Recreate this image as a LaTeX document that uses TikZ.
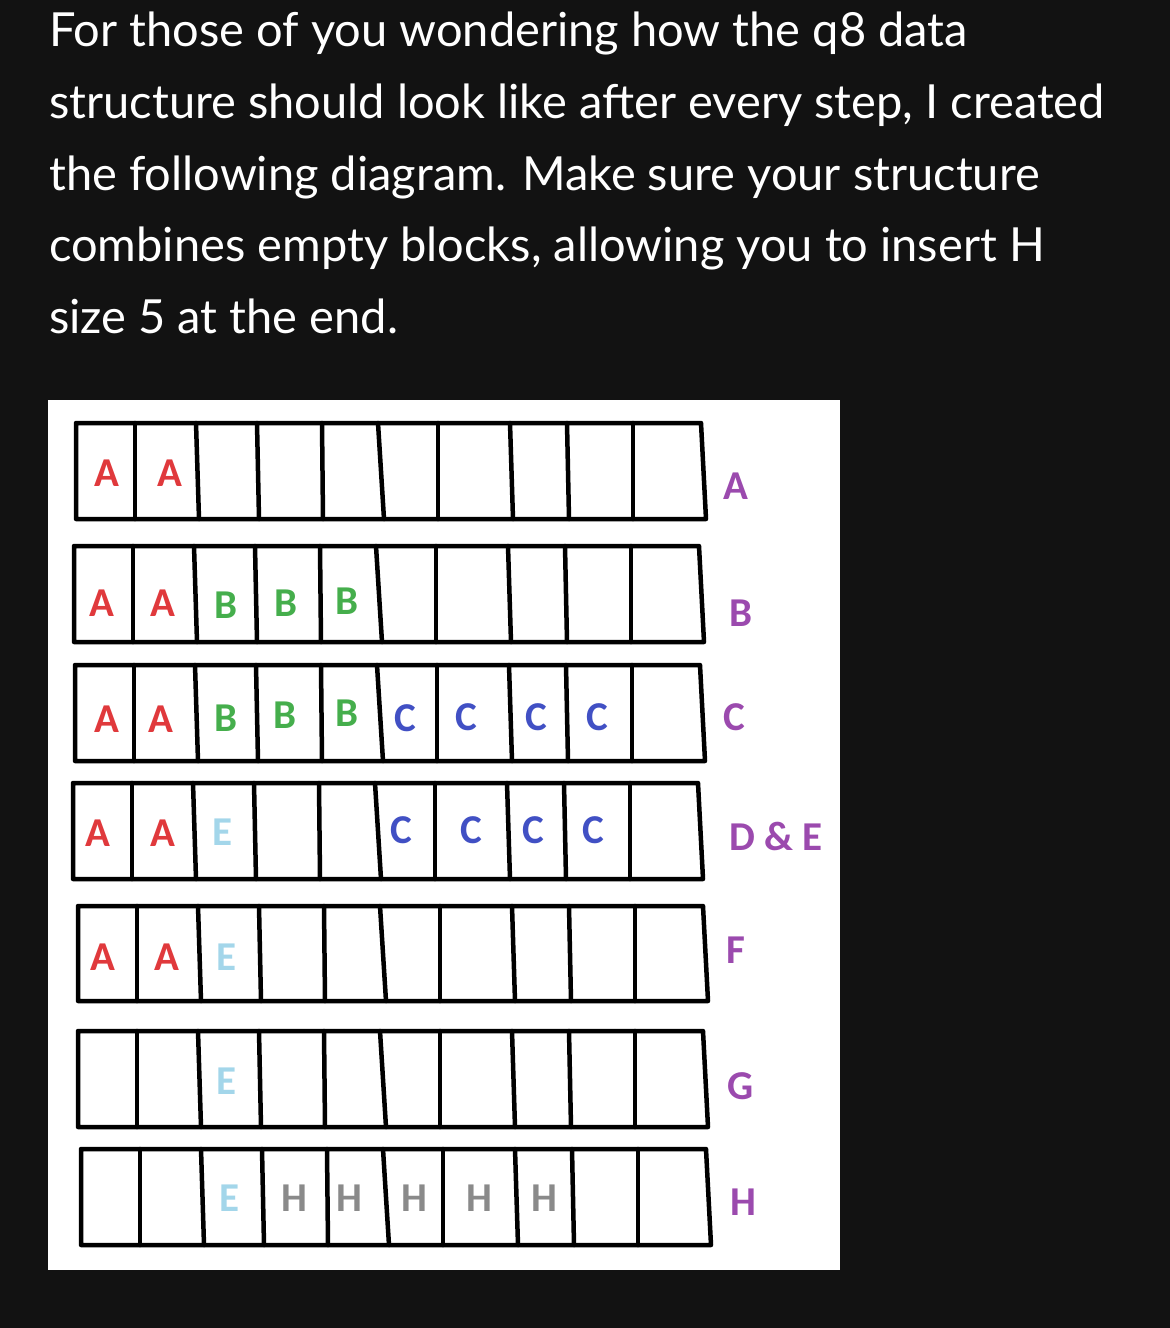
\documentclass[tikz,border=0pt]{standalone}
\usepackage{fontspec}
\setmainfont{Lato}
\newfontfamily\cellfont{Carlito}

\definecolor{pagebg}{HTML}{121212}
\definecolor{ared}{HTML}{E0393C}
\definecolor{bgreen}{HTML}{45AE4C}
\definecolor{cblue}{HTML}{4150C4}
\definecolor{elight}{HTML}{A3D6EA}
\definecolor{hgray}{HTML}{8A8A8A}
\definecolor{steplbl}{HTML}{9B4AAE}

\begin{document}
\begin{tikzpicture}[
  x=1pt,y=-1pt,
  every node/.style={inner sep=0pt},
  para/.style={anchor=base west,text=white,font=\fontsize{47}{50}\selectfont},
  cellline/.style={line width=4.5pt,line join=round,line cap=round},
  slot/.style={font=\cellfont\bfseries\fontsize{41}{41}\selectfont},
  stepname/.style={slot,text=steplbl}]

  \useasboundingbox (0,0) rectangle (1170,1328);
  \fill[pagebg] (0,0) rectangle (1170,1328);

  % Text above the picture
  \node[para] (line1) at (49,46)  {For those of you wondering how the q8 data};
  \node[para] (line2) at (49,118) {structure should look like after every step, I created};
  \node[para] (line3) at (49,190) {the following diagram. Make sure your structure};
  \node[para] (line4) at (49,261) {combines empty blocks, allowing you to insert H};
  \node[para] (line5) at (49,333) {size 5 at the end.};

  % White panel
  \fill[white] (48,400) rectangle (840,1270);

  % Seven rows of ten blocks, drawn by hand so a bit skewed
  \foreach \dx/\top/\bot in {0/423/519, -2/546/642, -1/665/761, -3/783/879,
                             2/906/1001, 2/1031/1127, 5/1149/1245}{
    \begin{scope}[xshift=\dx]
      \draw[cellline] (76,\top) -- (701,\top) -- (706,\bot) -- (76,\bot) -- cycle;
      \foreach \a/\b in {135/135, 196/199, 257/259, 322/323, 378/384,
                         438/438, 510/513, 567/569, 633/633}
        \draw[cellline] (\a,\top) -- (\b,\bot);
    \end{scope}
  }

  % Contents of the blocks
  \foreach \txt/\col/\x/\y [count=\i] in {
      A/ared/107/473, A/ared/170/473,
      A/ared/102/603, A/ared/163/603, B/bgreen/226/605, B/bgreen/286/603, B/bgreen/347/601,
      A/ared/107/719, A/ared/161/719, B/bgreen/226/718, B/bgreen/285/715, B/bgreen/347/713,
      C/cblue/405/718, C/cblue/466/717, C/cblue/536/717, C/cblue/597/717,
      A/ared/98/833, A/ared/163/833, E/elight/222/832,
      C/cblue/401/830, C/cblue/471/830, C/cblue/533/830, C/cblue/593/830,
      A/ared/103/957, A/ared/167/957, E/elight/226/957,
      E/elight/226/1081,
      E/elight/229/1198, H/hgray/294/1198, H/hgray/349/1198, H/hgray/414/1198,
      H/hgray/479/1198, H/hgray/544/1198}
    \node[slot,text=\col] (slot\i) at (\x,\y) {\txt};

  % Step names on the right
  \node[stepname] (stepA) at (736,486)  {A};
  \node[stepname] (stepB) at (741,613)  {B};
  \node[stepname] (stepC) at (734,717)  {C};
  \node[stepname] (stepDE) at (776,836) {D \& E};
  \node[stepname] (stepF) at (736,950)  {F};
  \node[stepname] (stepG) at (741,1086) {G};
  \node[stepname] (stepH) at (743,1202) {H};
\end{tikzpicture}
\end{document}
